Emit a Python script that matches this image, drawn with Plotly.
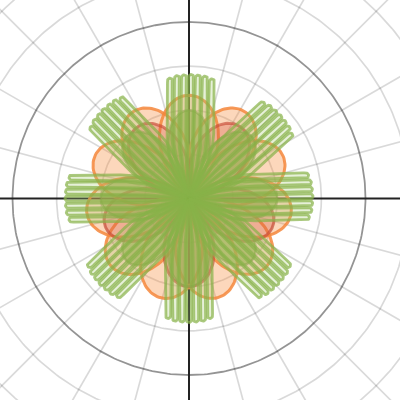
import numpy as np
import plotly.graph_objects as go

# ---- view / grid (units: dark circle is r = 2) ----
PX_PER_UNIT = 88.25
X_RANGE = [-189.0 / PX_PER_UNIT, 211.0 / PX_PER_UNIT]
Y_RANGE = [-201.5 / PX_PER_UNIT, 198.5 / PX_PER_UNIT]
MINOR_RADII = [0.5, 1.0, 1.5, 2.5, 3.0, 3.5]
MAJOR_RADII = [2.0]
SPOKE_ANGLES = [15, 30, 45, 60, 75, 105, 120, 135, 150, 165,
                195, 210, 225, 240, 255, 285, 300, 315, 330, 345]

# ---- curves ----
ORANGE_R = 1.17
ORANGE_K = 1.9
ORANGE_DIRS = [90.0, 57.3, 24.5, -8.2, -40.9, -73.6, -106.4, -139.1, -171.8, 155.5, 122.7]

RED_R = 1.0
RED_K = 1.9
RED_DIRS = [54.0, 126.0, 198.0, 270.0, 342.0]

GREEN_R = 1.0
GREEN_K = 2.3
GREEN_DIRS = [0.0, 45.0, 90.0, 135.0, 180.0, 225.0, 270.0, 315.0]

BUNDLE_DIRS = [1.0, 42.0, 89.0, 134.0, 180.0, 224.0, 270.0, 316.0]
BUNDLE_OFFSETS = [-0.237, -0.158, -0.079, 0.0, 0.079, 0.158, 0.237]
BUNDLE_LENGTHS = [1.36, 1.39, 1.40, 1.405, 1.40, 1.39, 1.36]
BUNDLE_LOOP_HALF = 0.03
BUNDLE_TAPER = 0.75


def lobe(R, k, phi_deg, n=90):
    a = np.linspace(-np.pi / (2 * k), np.pi / (2 * k), n)
    r = R * np.cos(k * a)
    th = np.radians(phi_deg) + a
    return r * np.cos(th), r * np.sin(th)


def join(parts):
    xs, ys = [], []
    for x, y in parts:
        xs += list(x) + [None]
        ys += list(y) + [None]
    return xs, ys


def loop(phi_deg, off, L, w0, u0):
    u = np.linspace(0, L - w0, 70)
    t = np.sin(np.clip(u / u0, 0, 1) * np.pi / 2)
    c = off * t
    w = w0 * t
    b = np.linspace(-np.pi / 2, np.pi / 2, 20)
    uu = np.concatenate([u, (L - w0) + w0 * np.cos(b), u[::-1]])
    vv = np.concatenate([c - w, off + w0 * np.sin(b), (c + w)[::-1]])
    p = np.radians(phi_deg)
    return uu * np.cos(p) - vv * np.sin(p), uu * np.sin(p) + vv * np.cos(p)


fig = go.Figure()

# grid circles and spokes
circ = np.linspace(0, 2 * np.pi, 361)
gx, gy = join([(r * np.cos(circ), r * np.sin(circ)) for r in MINOR_RADII])
sx, sy = join([([0, 4 * np.cos(np.radians(a))], [0, 4 * np.sin(np.radians(a))]) for a in SPOKE_ANGLES])
fig.add_trace(go.Scatter(x=gx + sx, y=gy + sy, mode="lines",
                         line=dict(color="rgba(0,0,0,0.15)", width=1.7), hoverinfo="skip"))
mx, my = join([(r * np.cos(circ), r * np.sin(circ)) for r in MAJOR_RADII])
fig.add_trace(go.Scatter(x=mx, y=my, mode="lines",
                         line=dict(color="rgba(0,0,0,0.42)", width=1.8), hoverinfo="skip"))
# axes
fig.add_trace(go.Scatter(x=[X_RANGE[0], X_RANGE[1], None, 0, 0],
                         y=[0, 0, None, Y_RANGE[0], Y_RANGE[1]], mode="lines",
                         line=dict(color="rgb(35,35,35)", width=2), hoverinfo="skip"))

# orange
ox, oy = join([lobe(ORANGE_R, ORANGE_K, d) for d in ORANGE_DIRS])
fig.add_trace(go.Scatter(x=ox, y=oy, mode="lines", fill="toself",
                         fillcolor="rgba(245,140,60,0.35)",
                         line=dict(color="rgba(245,135,60,0.85)", width=3), hoverinfo="skip"))
# red
rx, ry = join([lobe(RED_R, RED_K, d) for d in RED_DIRS])
fig.add_trace(go.Scatter(x=rx, y=ry, mode="lines", fill="toself",
                         fillcolor="rgba(210,80,60,0.3)",
                         line=dict(color="rgba(200,75,55,0.65)", width=3), hoverinfo="skip"))
# green lobes
lx, ly = join([lobe(GREEN_R, GREEN_K, d) for d in GREEN_DIRS])
fig.add_trace(go.Scatter(x=lx, y=ly, mode="lines", fill="toself",
                         fillcolor="rgba(148,168,70,0.62)",
                         line=dict(color="rgba(130,150,60,0.5)", width=2.5), hoverinfo="skip"))
# green bundles
parts = []
for d in BUNDLE_DIRS:
    for off, L in zip(BUNDLE_OFFSETS, BUNDLE_LENGTHS):
        parts.append(loop(d, off, L, BUNDLE_LOOP_HALF, BUNDLE_TAPER))
bx, by = join(parts)
fig.add_trace(go.Scatter(x=bx, y=by, mode="lines", fill="toself",
                         fillcolor="rgba(165,200,115,0.28)",
                         line=dict(color="rgba(135,178,72,0.7)", width=2.8), hoverinfo="skip"))

fig.update_layout(
    width=400, height=400, margin=dict(l=0, r=0, t=0, b=0),
    paper_bgcolor="white", plot_bgcolor="white", showlegend=False,
    xaxis=dict(range=X_RANGE, visible=False, fixedrange=True),
    yaxis=dict(range=Y_RANGE, visible=False, fixedrange=True),
)
fig.write_html("out.html", config={"displayModeBar": False},
               post_script="document.body.style.margin='0';document.body.style.overflow='hidden';")
